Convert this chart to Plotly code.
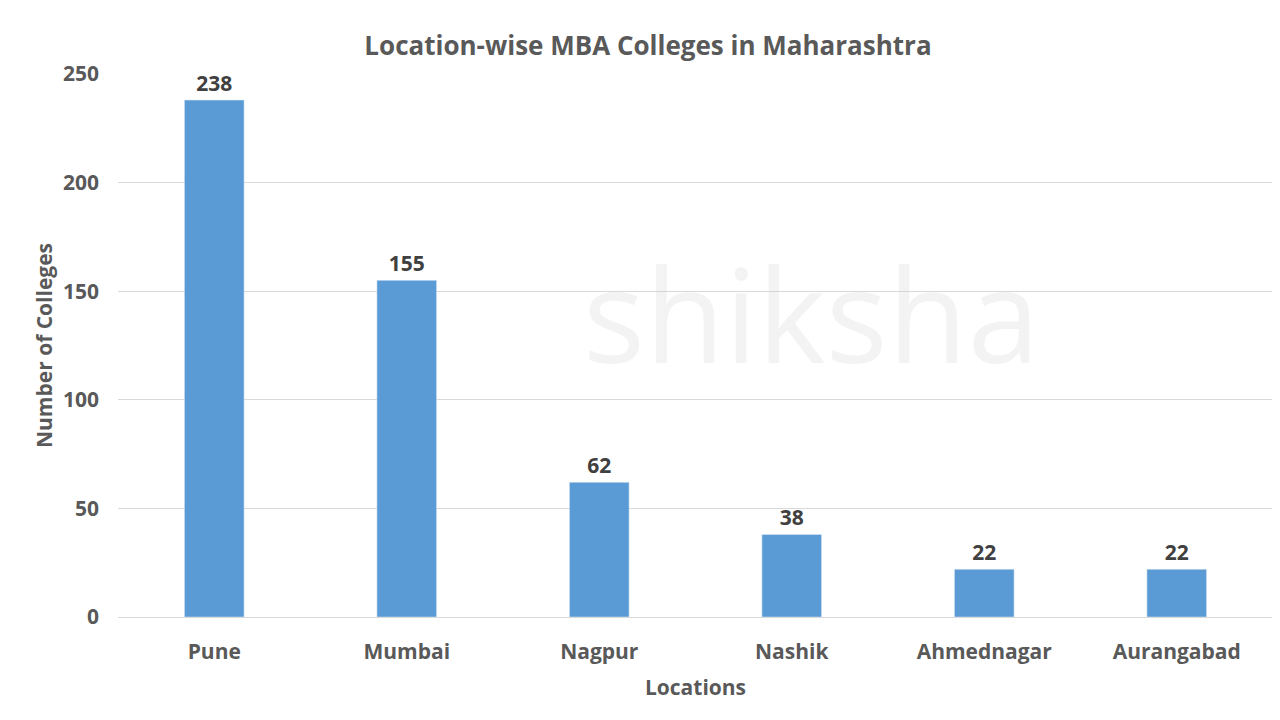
import plotly.graph_objects as go

locations = ["Pune", "Mumbai", "Nagpur", "Nashik", "Ahmednagar", "Aurangabad"]
colleges = [238, 155, 62, 38, 22, 22]

FONT = "Open Sans"
GREY = "#595959"

fig = go.Figure(go.Bar(
    x=locations, y=colleges, width=0.31, marker_color="#5B9BD5",
    text=[f"<b>{v}</b>" for v in colleges], textposition="outside",
    textfont=dict(size=21, color="#404040", family=FONT), cliponaxis=False,
))

# faint watermark
fig.add_annotation(text="shiksha", x=0.6, y=0.56, xref="paper", yref="paper",
                   showarrow=False, font=dict(size=130, color="rgba(200,200,200,0.22)",
                                              family=FONT))

fig.update_layout(
    width=1280, height=720, plot_bgcolor="white", paper_bgcolor="white",
    margin=dict(l=110, r=15, t=66, b=111),
    title=dict(text="<b>Location-wise MBA Colleges in Maharashtra</b>", x=0.5, y=0.96,
               xanchor="center", font=dict(size=26, color=GREY, family=FONT)),
    font=dict(family=FONT, color=GREY),
    showlegend=False,
)
fig.update_xaxes(title=dict(text="<b>Locations</b>", font=dict(size=21), standoff=16),
                 tickfont=dict(size=21), ticklabelstandoff=16, automargin=False,
                 tickprefix="<b>", ticksuffix="</b>",
                 showline=True, linecolor="#d9d9d9")
fig.update_yaxes(range=[0, 250], dtick=50, gridcolor="#d9d9d9", automargin=False,
                 title=dict(text="<b>Number of Colleges</b>", font=dict(size=21), standoff=4),
                 tickfont=dict(size=21), tickprefix="<b>", ticksuffix="</b>",
                 ticklabelstandoff=18, zeroline=False)

fig.write_html("out.html")
